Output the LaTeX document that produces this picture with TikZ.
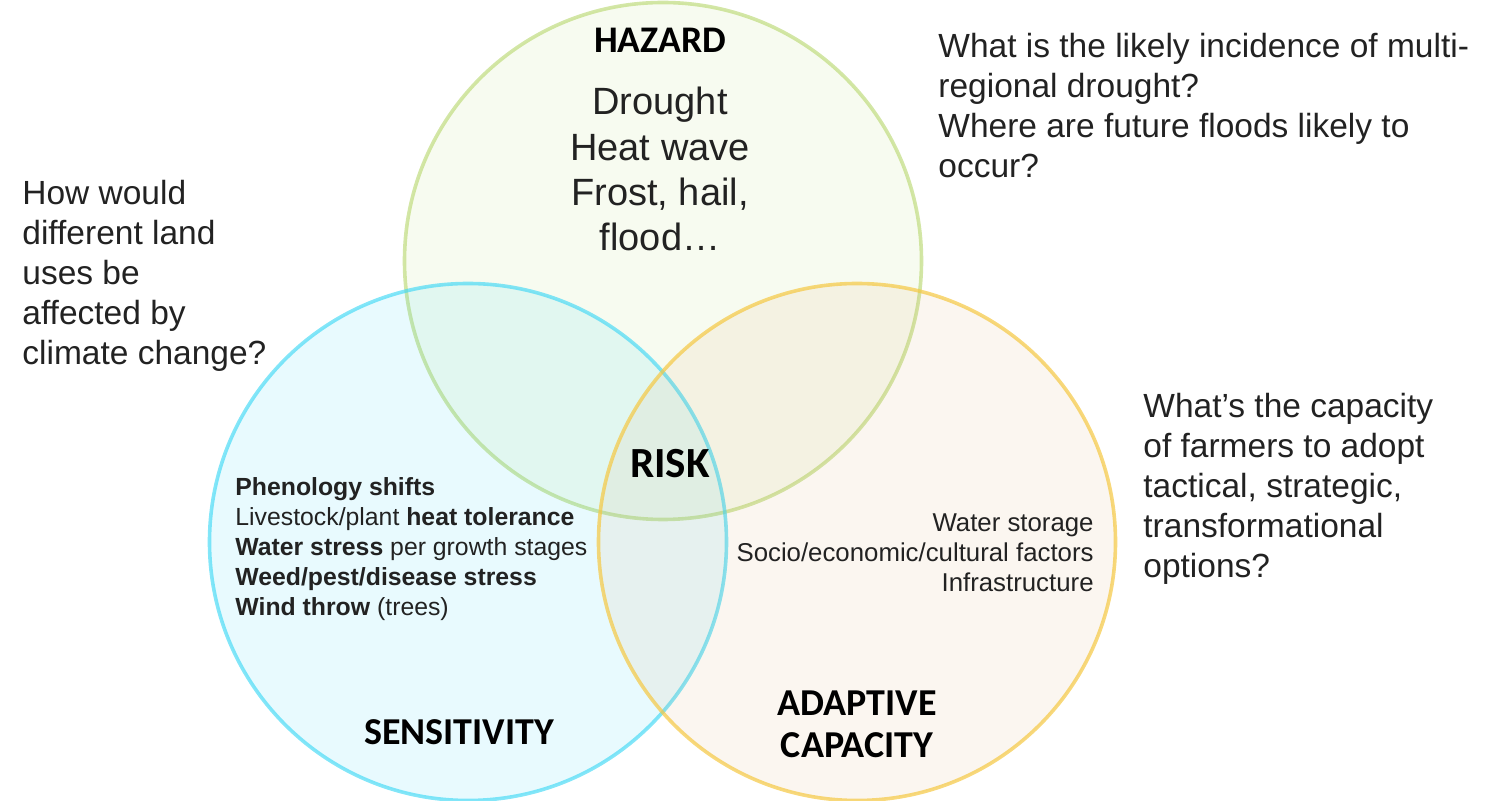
\documentclass[tikz,border=0pt]{standalone}
\usepackage{fontspec}
\setmainfont{Liberation Sans}
\newfontfamily\headfont{Carlito}

\definecolor{hazardline}{HTML}{B5D66A}
\definecolor{sensline}{HTML}{40D8F5}
\definecolor{adaptline}{HTML}{F5C842}
\definecolor{adaptfill}{HTML}{D9A66A}
\definecolor{textgray}{HTML}{222222}

\tikzset{
  ring/.style={circle, minimum size=258.5pt, line width=1.8pt, inner sep=0pt},
  head/.style={font=\headfont\bfseries\fontsize{19}{21}\selectfont, text=black, inner sep=0pt},
  question/.style={font=\fontsize{16.75}{20}\selectfont, text=textgray, align=left, inner sep=0pt, anchor=base west},
  factor/.style={font=\fontsize{12.4}{15}\selectfont, text=textgray, inner sep=0pt}
}

\begin{document}
\begin{tikzpicture}[x=0.5pt, y=-0.5pt]
      \useasboundingbox (0,0) rectangle (1512,801);

      % 円
      \node[ring, draw=hazardline, draw opacity=0.6, fill=hazardline, fill opacity=0.1] (hazard) at (663,261) {};
      \node[ring, draw=sensline, draw opacity=0.65, fill=sensline, fill opacity=0.12] (sens) at (468,542) {};
      \node[ring, draw=adaptline, draw opacity=0.7, fill=adaptfill, fill opacity=0.1] (adapt) at (857,542) {};

      % 見出し
      \node[head, font=\headfont\bfseries\fontsize{18.8}{20}\selectfont, anchor=base] (hazardlbl) at (660,53) {HAZARD};
      \node[head, font=\headfont\bfseries\fontsize{21.5}{22}\selectfont, anchor=base] (risk) at (670,478) {RISK};
      \node[head, anchor=base] (senslbl) at (459,745) {SENSITIVITY};
      \node[head, anchor=base, align=center] (adaptlbl) at (857,758) {ADAPTIVE\\CAPACITY};

      % ハザードの例
      \node[font=\fontsize{19}{22.7}\selectfont, text=textgray, align=center, inner sep=0pt, anchor=base] (hazardlist) at (660,251)
        {Drought\\Heat wave\\Frost, hail,\\flood\dots};

      % 感受性と適応能力
      \node[factor, align=left, anchor=base west] (senslist) at (235,616)
        {\textbf{Phenology shifts}\\Livestock/plant \textbf{heat tolerance}\\\textbf{Water stress} per growth stages\\\textbf{Weed/pest/disease stress}\\\textbf{Wind throw} (trees)};
      \node[factor, font=\fontsize{12.9}{15}\selectfont, align=right, anchor=base east] (adaptlist) at (1094,592)
        {Water storage\\Socio/economic/cultural factors\\Infrastructure};

      % 問い
      \node[question] (askhazard) at (938,178)
        {What is the likely incidence of multi-\\regional drought?\\Where are future floods likely to\\occur?};
      \node[question] (asksens) at (22,365)
        {How would\\different land\\uses be\\affected by\\climate change?};
      \node[question] (askadapt) at (1143,578)
        {What’s the capacity\\of farmers to adopt\\tactical, strategic,\\transformational\\options?};
    \end{tikzpicture}
\end{document}
